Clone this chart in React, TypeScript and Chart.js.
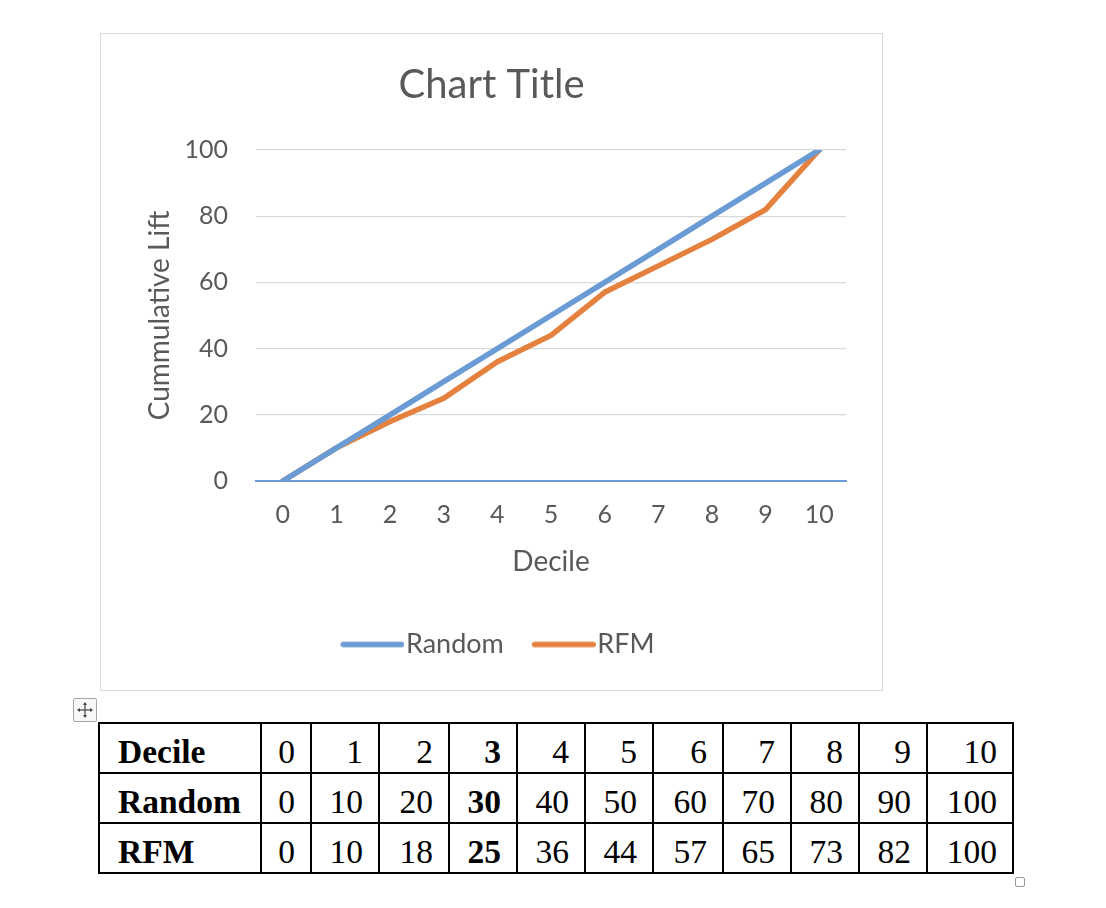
import React, { useEffect, useRef } from "react";
import { Chart, registerables } from "chart.js";

Chart.register(...registerables);

const deciles = ["0", "1", "2", "3", "4", "5", "6", "7", "8", "9", "10"];
const randomLift = [0, 10, 20, 30, 40, 50, 60, 70, 80, 90, 100];
const rfmLift = [0, 10, 18, 25, 36, 44, 57, 65, 73, 82, 100];

const BLUE = "#6a9bd5";
const ORANGE = "#e4813e";
const GREY_TEXT = "#595959";
const FONT = "Lato, 'Open Sans', sans-serif";
const LINE_W = 5.5;

const colWidths = [162, 50, 68, 70, 68, 68, 68, 70, 68, 68, 68, 86];

// legend swatch: a line sitting in the right part of a wider transparent canvas,
// so the legend text comes close to it like in Excel
function makeSwatch(color: string): HTMLCanvasElement {
  const c = document.createElement("canvas");
  c.width = 88;
  c.height = 10;
  const g = c.getContext("2d");
  if (g) {
    g.strokeStyle = color;
    g.lineWidth = LINE_W;
    g.lineCap = "round";
    g.beginPath();
    g.moveTo(24 + LINE_W / 2, 5);
    g.lineTo(88 - LINE_W / 2, 5);
    g.stroke();
  }
  return c;
}

const LiftChart: React.FC = () => {
  const canvasRef = useRef<HTMLCanvasElement>(null);
  const chartRef = useRef<Chart | null>(null);

  useEffect(() => {
    if (!canvasRef.current) return;
    const ctx = canvasRef.current.getContext("2d");
    if (!ctx) return;

    chartRef.current = new Chart(ctx, {
      type: "line",
      data: {
        labels: deciles,
        datasets: [
          {
            label: "Random",
            data: randomLift,
            borderColor: BLUE,
            backgroundColor: BLUE,
            borderWidth: LINE_W,
            borderCapStyle: "round",
            borderJoinStyle: "round",
            pointRadius: 0,
            pointStyle: makeSwatch(BLUE),
            tension: 0,
          },
          {
            label: "RFM",
            data: rfmLift,
            borderColor: ORANGE,
            backgroundColor: ORANGE,
            borderWidth: LINE_W,
            borderCapStyle: "round",
            borderJoinStyle: "round",
            pointRadius: 0,
            pointStyle: makeSwatch(ORANGE),
            tension: 0,
          },
        ],
      },
      options: {
        animation: false,
        responsive: false,
        maintainAspectRatio: false,
        layout: { padding: { left: 36, right: 36, top: 0, bottom: 22 } },
        plugins: {
          title: {
            display: true,
            text: "Chart Title",
            color: GREY_TEXT,
            font: { family: FONT, size: 40, weight: "normal" },
            padding: { top: 27, bottom: 41 },
          },
          legend: {
            position: "bottom",
            labels: {
              usePointStyle: true,
              pointStyleWidth: 64,
              color: GREY_TEXT,
              font: { family: FONT, size: 27 },
              padding: 16,
            },
          },
          tooltip: { enabled: false },
        },
        scales: {
          x: {
            offset: true,
            grid: { display: false, drawTicks: false },
            border: { display: true, color: BLUE, width: 2 },
            ticks: {
              color: GREY_TEXT,
              font: { family: FONT, size: 25 },
              padding: 19,
            },
            title: {
              display: true,
              text: "Decile",
              color: GREY_TEXT,
              font: { family: FONT, size: 28 },
              padding: { top: 0, bottom: 36 },
            },
            afterFit: (scale) => {
              scale.height = 134;
            },
          },
          y: {
            min: 0,
            max: 100,
            grid: { color: "#d9d9d9", lineWidth: 1.3, drawTicks: false },
            border: { display: false },
            ticks: {
              stepSize: 20,
              color: GREY_TEXT,
              font: { family: FONT, size: 25 },
              padding: 28,
            },
            title: {
              display: true,
              text: "Cummulative Lift",
              color: GREY_TEXT,
              font: { family: FONT, size: 28 },
              padding: { top: 6, bottom: 0 },
            },
            afterFit: (scale) => {
              scale.width = 119;
            },
          },
        },
      },
    });

    return () => {
      if (chartRef.current) {
        chartRef.current.destroy();
        chartRef.current = null;
      }
    };
  }, []);

  return <canvas ref={canvasRef} width={781} height={656} style={{ display: "block" }} />;
};

const cellStyle: React.CSSProperties = {
  border: "2px solid #000",
  padding: "0 15px 1px 15px",
  textAlign: "right",
  verticalAlign: "bottom",
  whiteSpace: "nowrap",
};

const DataTable: React.FC = () => {
  const rows: { name: string; values: (string | number)[] }[] = [
    { name: "Decile", values: deciles },
    { name: "Random", values: randomLift },
    { name: "RFM", values: rfmLift },
  ];
  return (
    <table
      style={{
        borderCollapse: "collapse",
        tableLayout: "fixed",
        width: 914,
        fontFamily: "'Liberation Serif', 'Times New Roman', serif",
        fontSize: 33.5,
        color: "#000",
      }}
    >
      <colgroup>
        {colWidths.map((w, i) => (
          <col key={i} style={{ width: w }} />
        ))}
      </colgroup>
      <tbody>
        {rows.map((r) => (
          <tr key={r.name} style={{ height: 50 }}>
            <td style={{ ...cellStyle, textAlign: "left", paddingLeft: 18, fontWeight: "bold" }}>{r.name}</td>
            {r.values.map((v, i) => (
              <td key={i} style={{ ...cellStyle, fontWeight: i === 3 ? "bold" : "normal" }}>
                {v}
              </td>
            ))}
          </tr>
        ))}
      </tbody>
    </table>
  );
};

const App: React.FC = () => {
  return (
    <div style={{ position: "relative", width: 1090, height: 890 }}>
      <div
        style={{
          position: "absolute",
          left: 92,
          top: 25,
          width: 781,
          height: 656,
          border: "1px solid #d9d9d9",
          background: "#fff",
        }}
      >
        <LiftChart />
      </div>
      <div
        style={{
          position: "absolute",
          left: 65,
          top: 690,
          width: 22,
          height: 22,
          border: "1px solid #a6a6a6",
          borderRadius: 2,
          background: "#f7f7f7",
        }}
      >
        <svg width="22" height="22" viewBox="0 0 22 22">
          <g stroke="#444" strokeWidth="1.2" fill="#444">
            <line x1="11" y1="4" x2="11" y2="18" />
            <line x1="4" y1="11" x2="18" y2="11" />
            <polygon points="11,3 9,6 13,6" stroke="none" />
            <polygon points="11,19 9,16 13,16" stroke="none" />
            <polygon points="3,11 6,9 6,13" stroke="none" />
            <polygon points="19,11 16,9 16,13" stroke="none" />
          </g>
        </svg>
      </div>
      <div style={{ position: "absolute", left: 90, top: 714 }}>
        <DataTable />
      </div>
      <div
        style={{
          position: "absolute",
          left: 1007,
          top: 869,
          width: 8,
          height: 8,
          border: "1px solid #9a9a9a",
          borderRadius: 2,
          background: "#fff",
        }}
      />
    </div>
  );
};

export default App;
